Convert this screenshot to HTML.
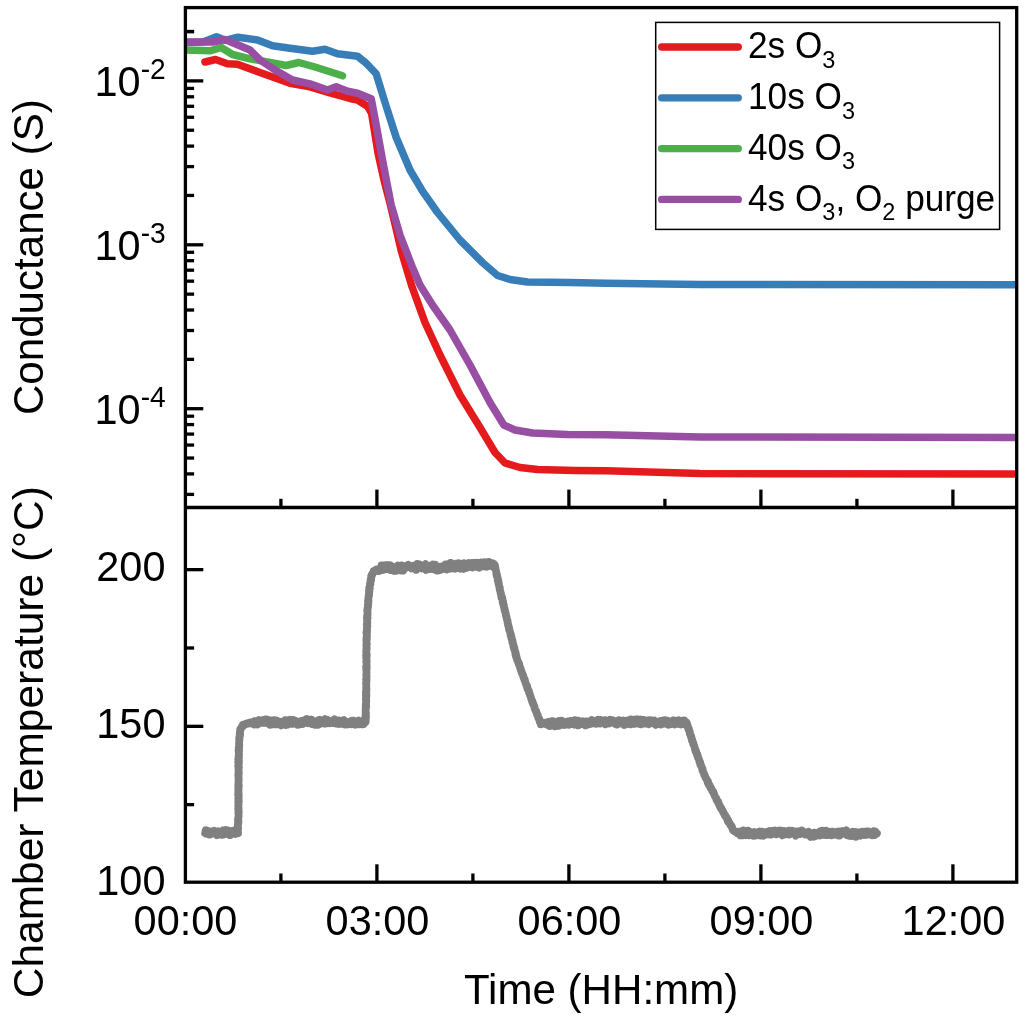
<!DOCTYPE html><html><head><meta charset="utf-8"><title>Conductance vs Time</title>
<style>html,body{margin:0;padding:0;background:#fff}svg{display:block}text{font-family:"Liberation Sans",Arial,sans-serif;fill:#000}</style></head><body>
<svg width="1025" height="1025" viewBox="0 0 1025 1025">
<rect width="1025" height="1025" fill="#fff"/>
<defs><clipPath id="ct"><rect x="185.4" y="7.6" width="831.3" height="499.9"/></clipPath></defs>
<g clip-path="url(#ct)">
<polyline points="205.0,62.0 215.5,59.5 227.5,63.8 237.5,64.2 260.0,72.5 290.0,83.2 310.0,86.8 330.0,93.0 350.0,98.5 357.5,100.0 367.5,106.2 371.5,113.0 378.0,153.0 384.0,180.0 389.7,202.0 395.5,226.0 401.2,250.7 412.2,287.3 425.0,322.5 440.0,355.0 460.0,395.0 480.0,427.5 495.0,452.5 505.0,463.0 520.0,467.5 537.5,469.5 575.0,470.5 606.0,470.8 700.0,473.6 1016.0,473.9" fill="none" stroke="#e41a1c" stroke-width="7.5" stroke-linejoin="round" stroke-linecap="round" />
<polyline points="186.0,42.5 203.0,42.0 216.5,36.8 225.0,40.3 238.0,37.2 257.5,40.0 272.5,45.8 290.0,48.2 312.5,51.2 325.0,49.2 337.5,53.8 357.5,56.2 366.0,63.0 376.2,73.8 385.0,102.5 396.2,137.5 410.0,170.0 422.5,191.2 437.5,212.5 460.0,240.0 482.5,262.5 497.5,275.5 510.0,279.5 527.5,282.0 570.0,282.5 606.0,283.2 700.0,284.4 1016.0,284.7" fill="none" stroke="#377eb8" stroke-width="7.5" stroke-linejoin="round" stroke-linecap="round" />
<polyline points="186.0,50.0 210.0,50.8 221.2,47.5 232.5,54.5 250.0,58.8 267.5,62.0 286.2,65.5 298.8,62.5 315.0,67.0 342.5,75.8" fill="none" stroke="#4daf4a" stroke-width="7.5" stroke-linejoin="round" stroke-linecap="round" />
<polyline points="186.0,42.0 212.5,42.0 225.0,39.5 250.0,50.0 260.0,60.0 275.0,70.0 292.5,80.0 310.0,83.8 327.5,90.0 336.2,86.8 347.5,91.2 357.5,93.2 371.2,98.8 376.2,125.0 382.5,160.0 391.2,205.0 400.0,235.0 412.5,267.5 420.0,285.0 432.5,305.0 450.0,330.0 470.0,365.0 490.0,402.5 503.8,425.0 515.0,430.0 532.5,433.0 567.5,434.5 606.0,434.8 700.0,437.0 1016.0,437.4" fill="none" stroke="#984ea3" stroke-width="7.5" stroke-linejoin="round" stroke-linecap="round" />
</g>
<polyline points="205.1,833.1 205.8,830.2 206.3,833.7 207.3,832.9 207.5,830.7 208.1,831.9 208.5,831.9 209.2,834.6 210.2,832.4 210.3,834.6 210.9,831.5 211.2,831.7 212.1,832.5 212.5,832.7 212.9,831.6 213.5,832.4 214.1,830.6 214.8,831.8 215.5,833.4 216.2,834.1 216.7,835.2 217.1,832.3 218.0,831.3 218.4,833.8 218.5,834.8 219.6,833.6 220.1,834.5 220.3,832.9 221.0,834.5 221.8,834.4 222.2,834.8 222.8,833.7 223.1,830.3 223.6,832.0 224.2,834.4 225.0,833.3 225.6,833.5 226.1,830.0 226.8,833.8 227.2,832.7 227.8,830.3 228.4,831.2 228.6,831.4 229.6,831.1 230.1,835.2 230.5,832.2 231.1,833.8 231.8,833.6 232.3,830.8 232.6,831.8 233.5,832.1 233.9,830.6 234.2,832.0 235.1,834.1 235.7,832.0 236.1,832.9 236.7,831.1 237.5,831.5 238.1,833.4 237.5,832.4 238.0,832.3 237.8,831.1 237.7,831.2 237.7,830.2 237.7,829.6 238.2,828.7 238.2,828.5 238.2,828.1 237.8,827.7 238.0,826.3 237.7,826.2 238.0,825.4 237.9,824.9 238.0,824.8 237.8,824.2 238.3,823.0 238.4,823.0 238.4,822.0 238.1,821.6 238.5,821.2 238.2,820.5 238.1,819.5 238.0,819.7 238.2,819.3 238.2,818.0 238.3,817.4 238.3,817.6 238.6,816.9 238.5,816.4 238.7,815.5 238.5,814.4 238.5,814.3 238.6,813.9 238.3,812.8 238.7,812.3 238.4,812.0 238.3,811.8 238.7,810.8 238.5,810.3 238.5,809.8 238.2,809.0 238.3,809.2 238.4,808.0 238.7,808.2 238.4,806.8 238.2,806.2 238.3,805.6 238.3,805.2 238.5,805.3 238.6,804.3 238.4,803.8 238.4,803.1 238.2,802.5 238.7,801.8 238.5,801.7 238.7,800.7 238.3,800.2 238.4,799.9 238.7,799.7 238.7,798.3 238.2,798.5 238.7,797.7 238.5,796.6 238.4,797.0 238.7,796.4 238.8,795.2 238.2,794.6 238.5,794.6 238.7,794.0 238.6,793.5 238.5,792.8 238.2,792.4 238.3,792.0 238.6,790.9 238.3,790.2 238.6,790.1 238.3,789.0 238.5,788.9 238.4,788.0 238.6,787.2 238.4,787.1 238.8,786.8 238.7,786.0 238.3,785.3 238.8,785.2 238.4,783.9 238.5,784.0 238.5,783.0 238.6,783.2 238.4,781.7 238.4,781.5 238.6,780.8 238.7,780.8 238.5,779.7 238.8,779.2 238.7,778.6 238.4,778.6 238.4,778.2 238.5,776.9 238.4,776.6 238.6,776.5 238.3,775.4 238.4,775.4 238.3,774.0 238.3,773.8 238.8,773.7 238.7,773.3 238.8,772.0 238.4,772.1 238.7,770.6 238.7,770.4 238.5,769.8 238.4,768.9 238.4,768.7 238.8,767.9 238.9,767.5 238.5,767.5 238.8,766.6 238.3,766.1 238.5,766.0 238.4,764.9 238.8,764.0 238.5,764.2 238.7,762.9 238.3,762.3 238.8,762.0 238.7,762.1 238.5,760.9 238.9,760.7 238.5,760.2 238.5,759.2 238.3,759.1 238.9,758.5 238.9,757.3 238.5,757.2 239.0,757.1 238.6,755.9 238.7,755.5 239.0,754.7 238.9,754.7 239.0,754.2 238.9,753.2 238.7,752.6 239.0,751.8 238.7,751.9 238.7,750.7 238.6,750.6 238.8,750.5 239.1,749.9 238.8,748.5 238.7,748.3 239.1,747.7 238.8,747.1 239.1,746.8 239.2,746.5 239.1,745.2 239.3,744.8 239.1,744.3 239.2,743.6 238.9,743.1 238.9,743.2 239.2,742.0 239.1,742.2 239.2,740.8 239.4,740.7 239.5,739.6 239.2,739.8 239.5,739.3 239.1,738.1 239.2,737.5 239.8,737.3 239.8,736.6 239.9,736.1 239.6,735.9 240.1,734.7 239.9,734.6 239.7,733.8 239.8,733.1 239.9,732.9 240.2,732.0 239.9,731.6 240.3,730.9 240.2,730.4 240.5,730.1 240.2,729.2 240.4,729.1 240.9,728.1 240.9,728.2 241.4,727.3 241.6,727.5 241.9,726.6 242.3,725.9 242.9,726.0 242.9,724.7 243.7,724.5 243.8,725.0 244.6,724.7 245.2,724.6 245.8,723.7 246.0,723.9 247.0,724.0 247.2,723.5 247.9,723.2 248.3,722.9 249.1,723.5 249.4,722.9 250.4,723.3 250.5,722.4 251.5,723.2 251.8,722.2 252.6,722.4 253.2,722.6 253.6,722.0 254.2,721.4 254.5,724.6 255.4,721.1 255.6,722.2 256.4,722.0 256.8,721.3 257.7,724.6 257.9,722.8 259.0,720.0 259.6,720.3 260.1,722.4 260.6,721.0 261.1,722.3 261.6,722.6 262.2,721.3 262.5,722.2 263.3,720.1 264.0,722.9 264.4,719.8 264.9,719.5 265.3,721.2 265.8,721.3 266.6,719.4 267.2,719.7 267.8,723.4 268.3,719.7 268.8,721.5 269.6,720.3 270.1,724.8 270.6,723.8 270.8,724.7 271.5,724.5 272.3,720.4 272.8,724.4 272.9,721.4 273.9,720.3 274.5,720.9 275.0,720.2 275.4,724.3 275.8,720.9 276.5,721.2 276.8,720.5 277.4,724.5 278.3,724.4 278.5,723.9 279.0,722.7 279.9,721.9 280.6,723.0 280.9,724.8 281.2,725.4 282.1,722.3 282.7,721.6 283.4,723.2 283.6,724.2 284.2,721.1 284.9,720.4 285.5,721.4 285.9,725.2 286.5,723.5 286.8,720.0 287.2,720.7 288.1,722.2 288.6,724.6 288.9,721.0 289.8,719.9 290.0,721.5 290.6,721.4 291.2,722.4 292.0,720.3 292.5,721.6 292.8,723.9 293.4,719.8 293.9,722.3 294.9,723.1 295.1,720.5 295.5,722.7 296.3,721.3 296.9,722.0 297.7,723.7 297.8,724.8 298.2,723.1 299.0,721.7 299.3,724.6 299.9,723.4 301.0,721.2 301.1,723.5 301.8,723.5 302.5,720.8 302.8,721.2 303.2,724.0 304.2,722.9 304.3,723.3 305.2,721.2 305.8,721.0 306.0,719.2 306.6,718.9 307.2,722.6 308.0,723.2 308.5,720.3 309.0,721.2 309.7,721.8 309.9,722.5 310.9,720.4 311.4,719.4 311.6,720.5 312.4,724.2 312.9,721.1 313.6,721.1 313.7,724.2 314.5,723.2 315.1,724.8 315.5,724.2 316.2,724.4 316.6,723.7 317.2,721.6 317.6,723.3 318.0,724.8 318.6,720.1 319.2,724.7 319.9,720.5 320.2,719.8 321.2,722.7 321.7,723.1 321.9,722.1 322.6,723.2 323.4,723.4 323.5,723.3 324.6,723.7 324.7,719.9 325.2,719.0 326.2,723.2 326.6,723.3 327.2,720.6 327.4,719.8 328.4,720.4 328.6,721.6 329.0,720.8 329.7,723.2 330.3,721.2 331.2,722.1 331.7,722.6 331.8,721.4 332.6,723.1 333.1,722.6 333.7,720.0 334.5,719.2 335.0,719.5 335.1,719.6 336.1,723.6 336.2,721.1 337.0,722.8 337.4,721.3 338.0,723.2 338.5,724.0 339.1,720.4 339.9,722.1 340.1,723.0 340.6,723.9 341.5,724.0 342.0,721.8 342.4,722.0 343.3,720.4 343.8,720.1 344.0,721.4 344.9,722.6 345.2,724.6 345.6,722.5 346.4,724.0 347.1,723.5 347.4,721.8 347.8,724.5 348.6,724.0 348.9,722.4 349.8,723.1 350.0,722.4 351.0,721.2 351.1,721.5 352.0,724.2 352.2,720.6 352.8,721.5 353.5,720.6 353.9,720.7 354.9,723.5 354.9,724.8 355.5,721.9 356.5,724.1 356.9,722.3 357.2,723.5 357.7,721.3 358.4,720.5 358.9,724.5 359.7,723.0 360.2,722.8 360.4,723.5 361.1,724.1 362.0,722.4 362.3,723.9 362.8,721.0 363.5,724.3 364.1,723.2 364.7,722.9 365.1,721.6 365.5,722.3 365.4,721.6 365.8,721.3 365.7,720.3 365.6,719.9 365.7,719.3 365.8,719.3 365.5,718.5 365.9,717.6 365.7,717.7 365.4,716.7 365.5,716.4 366.0,715.6 365.5,715.1 365.8,714.6 365.8,714.0 366.0,713.3 365.8,713.2 365.6,712.4 365.8,711.9 365.6,711.6 365.8,710.1 365.7,709.9 365.6,709.3 365.8,709.1 365.8,708.1 365.7,708.0 366.2,707.2 365.8,707.0 365.9,705.8 365.7,705.8 366.2,705.1 366.0,704.5 365.8,704.3 365.9,703.5 366.2,703.1 366.0,702.0 366.1,701.3 366.3,701.0 366.3,700.3 366.0,699.7 366.1,699.1 365.8,699.1 366.0,698.1 366.0,697.8 366.1,697.4 366.3,696.5 366.4,696.5 365.9,695.9 366.4,695.3 366.0,694.8 366.3,693.4 365.9,693.8 366.3,692.5 366.0,691.9 366.1,691.9 366.2,690.8 366.5,690.8 366.1,690.4 366.4,689.7 366.4,689.3 366.5,688.7 366.1,688.0 366.3,687.5 366.3,687.0 366.4,685.9 366.2,685.2 366.3,684.6 366.3,684.1 366.3,683.9 366.4,683.7 366.0,683.1 366.3,682.3 366.4,682.0 366.3,681.0 366.6,680.1 366.4,680.1 366.1,679.6 366.5,679.3 366.3,678.8 366.4,677.8 366.6,676.8 366.5,676.8 366.3,676.5 366.3,675.5 366.4,675.3 366.2,674.4 366.4,673.9 366.6,673.1 366.6,672.7 366.4,672.0 366.4,672.1 366.5,671.4 366.3,670.4 366.3,670.1 366.5,669.7 366.2,669.1 366.7,668.4 366.2,667.6 366.1,666.9 366.7,666.8 366.5,666.4 366.7,665.7 366.5,665.1 366.6,664.5 366.6,663.6 366.6,663.3 366.6,662.4 366.3,661.8 366.6,662.1 366.6,661.0 366.7,660.8 366.5,659.8 366.4,659.4 366.4,658.8 366.6,658.8 366.2,657.8 366.2,656.8 366.7,656.7 366.8,656.1 366.2,655.4 366.6,655.4 366.8,654.4 366.5,653.5 366.6,653.0 366.3,652.3 366.2,652.4 366.3,652.1 366.3,651.5 366.3,650.1 366.7,649.7 366.7,649.1 366.3,649.2 366.7,648.7 366.7,647.4 366.6,647.4 366.5,647.1 366.4,646.6 366.7,645.1 366.3,645.2 366.8,644.0 366.5,644.1 366.4,643.7 366.6,642.3 366.5,642.3 366.6,641.8 366.4,641.4 366.5,640.7 366.7,639.9 366.5,639.7 366.9,639.2 366.7,638.1 366.4,638.3 366.8,637.5 366.6,636.8 367.0,636.4 366.8,635.4 366.7,635.4 366.7,634.6 366.8,634.3 367.0,633.1 366.5,632.5 366.8,632.3 367.0,632.1 366.6,631.4 367.1,630.9 366.9,629.8 367.1,629.8 367.0,629.3 366.9,627.9 367.0,628.1 366.8,627.5 367.3,626.4 367.1,626.3 367.0,625.3 366.9,625.3 367.2,624.4 366.8,624.2 367.3,623.1 367.2,623.2 367.4,622.2 367.1,621.8 367.0,620.8 367.0,620.8 367.1,620.1 367.2,619.5 367.0,618.4 367.5,618.2 367.0,617.9 367.5,616.9 367.4,616.5 367.3,615.6 367.1,616.0 367.6,615.0 367.4,614.2 367.6,613.8 367.7,613.6 367.6,613.2 367.3,611.8 367.3,611.3 367.2,610.7 367.5,610.9 367.5,610.4 367.8,609.0 367.7,608.8 367.4,608.8 367.6,607.9 367.8,607.7 367.9,606.6 367.8,605.8 368.2,606.1 367.8,604.6 367.9,604.4 368.3,604.4 368.3,602.9 368.3,603.1 368.3,602.8 368.0,601.4 368.5,601.6 368.5,600.4 368.5,600.4 368.2,599.4 368.4,598.6 368.5,598.1 368.4,597.5 368.8,596.9 368.8,596.5 368.5,596.7 368.6,596.1 369.1,595.5 368.7,594.5 368.7,594.5 369.2,593.6 369.0,592.8 369.3,592.4 369.2,591.5 369.0,590.9 369.4,590.8 369.1,590.6 369.2,589.6 369.2,588.9 369.7,588.4 369.3,588.0 369.5,587.9 369.5,587.4 369.5,586.8 370.0,585.5 369.9,585.1 369.9,584.4 370.1,584.7 370.5,584.1 370.1,582.9 370.6,582.1 370.6,581.8 370.9,581.0 370.9,580.7 370.6,579.9 371.1,579.8 370.8,579.2 371.3,578.4 371.2,577.8 371.0,577.9 371.4,576.8 371.2,576.1 371.6,576.0 371.6,575.2 372.1,575.2 372.4,574.6 372.3,573.6 372.9,573.4 373.1,572.6 373.4,572.3 373.7,572.4 373.7,571.0 374.2,571.0 374.7,570.5 374.8,570.7 375.4,569.8 375.9,569.9 376.2,569.5 377.0,569.2 377.3,569.1 378.2,571.1 378.5,570.0 379.1,570.2 379.5,570.9 380.6,568.4 380.9,568.6 381.5,565.3 382.4,566.5 382.5,565.6 383.1,570.0 383.6,565.4 384.5,566.0 384.7,568.4 385.6,567.9 386.2,565.2 386.9,569.0 386.9,565.2 387.8,567.5 388.2,565.1 388.8,565.2 389.5,569.7 389.7,567.9 390.7,565.3 391.3,570.2 391.5,567.0 392.4,567.8 392.7,570.4 393.4,566.8 393.7,566.9 394.3,571.0 395.1,570.6 395.7,570.3 395.8,568.2 396.9,570.8 397.0,567.6 397.8,567.3 398.2,565.5 398.7,568.2 399.0,565.9 400.2,569.9 400.7,569.0 401.2,570.6 401.8,565.3 402.2,566.8 402.7,566.8 403.2,570.7 403.8,566.4 404.3,567.4 405.1,566.4 405.3,568.4 405.7,568.0 406.8,567.3 406.9,566.9 407.6,564.9 407.9,564.8 408.6,566.5 409.1,565.5 409.6,567.4 410.6,567.8 411.0,568.1 411.3,568.5 412.0,567.6 412.6,567.1 413.0,565.7 413.5,567.4 414.1,567.9 414.5,566.4 415.5,565.5 415.9,567.0 416.3,569.9 416.9,568.3 417.3,563.8 418.3,565.9 418.4,565.4 419.1,567.4 419.5,564.2 420.6,567.4 420.6,564.9 421.3,567.1 422.0,568.4 422.7,566.5 423.2,568.1 423.7,566.6 424.3,568.2 424.9,564.7 425.5,564.1 426.0,567.7 426.3,570.0 426.9,566.6 427.6,569.4 428.1,566.4 428.5,566.8 429.2,565.8 429.6,567.4 430.1,565.9 430.9,569.1 431.3,566.6 431.7,565.7 432.2,567.4 433.0,564.4 433.8,565.9 434.3,569.2 434.9,565.4 435.1,569.8 435.4,564.6 436.3,567.4 437.1,569.2 437.4,570.7 437.9,567.7 438.6,566.9 438.9,568.1 439.5,570.3 440.2,567.6 440.4,566.6 441.2,567.7 441.8,569.6 442.6,567.1 442.8,567.9 443.7,566.1 444.0,569.0 444.3,565.9 445.4,569.0 445.6,564.4 446.4,567.8 446.9,569.5 447.5,565.8 447.6,564.9 448.4,566.0 448.8,563.9 449.6,566.4 450.0,568.8 450.7,562.9 451.1,567.5 451.6,567.0 452.0,564.6 453.0,566.3 453.5,563.9 453.9,566.2 454.3,566.8 455.0,568.9 455.6,565.3 455.9,563.7 456.8,563.4 457.0,563.9 457.8,568.0 458.4,567.9 458.6,563.1 459.6,565.1 460.1,565.3 460.3,564.8 460.8,568.8 461.7,565.4 462.1,565.6 462.5,568.7 463.3,569.0 463.8,566.7 464.2,563.0 465.2,567.8 465.4,567.9 466.2,564.0 466.6,567.9 467.1,567.7 467.5,564.1 468.4,563.1 468.7,567.2 469.3,566.7 469.7,563.0 470.4,563.2 471.3,563.9 471.6,563.0 472.1,564.8 472.6,562.9 473.0,567.6 473.7,564.1 474.1,564.3 474.7,562.7 475.5,564.5 475.8,566.7 476.3,563.9 477.3,562.9 477.6,567.2 478.3,562.9 478.6,566.4 479.2,567.8 479.6,567.7 480.4,563.2 480.9,562.6 481.6,563.3 482.3,565.3 482.5,563.2 483.2,563.0 483.9,562.4 484.2,565.0 484.6,566.4 485.3,565.6 485.9,563.5 486.4,562.1 486.8,566.8 487.4,565.6 487.9,564.9 488.6,564.5 489.1,561.8 489.6,562.8 490.1,565.8 490.7,563.8 491.6,566.1 492.2,566.6 492.3,563.0 492.8,565.6 493.7,563.7 494.1,565.8 494.8,565.0 495.0,565.7 495.0,566.1 494.8,567.3 495.3,567.7 495.0,567.5 495.2,568.2 495.4,569.0 495.4,569.4 495.8,569.8 496.1,570.8 496.1,571.0 496.1,572.0 496.1,571.8 496.5,573.1 496.3,573.0 496.8,574.1 496.4,574.2 496.6,575.3 496.7,576.0 497.2,575.7 497.3,576.5 497.4,577.5 497.3,577.3 497.8,578.2 497.9,579.0 497.9,579.7 497.9,579.8 497.7,580.6 498.0,581.0 498.5,581.1 498.5,581.6 498.6,582.9 498.4,583.2 498.9,583.8 498.8,584.0 498.6,584.6 499.0,585.0 499.0,585.5 499.4,586.5 499.2,586.7 499.5,587.4 499.9,587.9 499.6,588.9 499.6,589.1 499.9,589.9 500.1,590.4 500.0,590.9 500.4,591.2 500.6,592.1 500.4,592.1 500.6,592.5 500.6,593.2 500.8,594.1 501.1,594.1 501.1,595.0 501.3,595.2 501.2,595.6 501.9,596.8 501.5,597.4 502.1,597.7 501.7,598.2 502.1,598.4 502.3,598.8 502.6,600.0 502.6,600.8 502.7,600.6 502.6,601.1 502.6,602.2 503.2,602.3 502.9,603.2 503.4,604.0 503.2,604.4 503.7,604.9 503.5,604.9 503.9,605.6 503.8,606.3 503.9,607.1 504.0,606.9 504.3,608.0 504.6,608.6 504.7,609.4 504.6,609.5 504.5,609.8 504.9,610.1 505.1,610.8 505.1,612.1 505.0,611.7 505.3,612.4 505.6,612.8 505.8,614.1 505.9,614.3 505.7,615.0 506.0,615.3 506.0,615.9 506.3,616.8 506.6,616.7 506.4,617.5 506.7,617.9 506.6,618.2 506.8,619.1 507.3,620.1 507.3,620.7 507.5,620.9 507.6,620.9 507.6,622.0 507.5,622.5 508.0,622.9 508.0,623.3 507.9,624.4 507.9,624.2 508.4,625.0 508.2,625.8 508.5,626.2 508.6,626.7 508.9,627.1 508.7,627.5 509.3,628.4 509.0,629.2 509.2,629.0 509.5,629.7 509.6,630.5 509.6,631.1 509.7,631.6 510.1,631.7 510.1,632.2 510.3,633.6 510.5,634.0 510.8,633.9 511.0,635.0 510.7,635.7 511.0,635.6 511.4,636.5 511.5,636.6 511.6,637.1 511.4,637.9 511.4,638.7 511.7,638.9 512.1,639.6 512.4,640.4 512.5,640.8 512.7,641.7 512.3,642.1 512.6,642.7 512.9,643.3 512.7,643.3 513.2,644.5 513.4,644.1 513.4,644.7 513.5,645.9 513.4,646.6 513.9,646.5 513.7,647.2 514.3,647.9 514.0,647.9 514.1,649.2 514.3,649.5 514.5,650.2 514.7,650.2 515.1,651.1 515.1,651.9 515.4,651.6 515.2,652.3 515.4,653.6 515.8,653.3 515.5,654.6 516.0,654.7 516.0,655.0 516.3,655.8 516.5,656.6 516.1,656.8 516.4,657.9 516.8,657.6 516.8,658.4 517.1,659.2 517.3,659.5 517.2,660.2 517.6,660.2 517.9,661.7 517.8,661.4 518.4,662.0 518.3,662.8 518.5,663.3 518.8,664.3 519.3,663.9 519.2,665.1 519.6,665.6 519.6,666.0 519.7,666.2 520.1,667.3 520.4,667.6 520.2,668.3 520.6,668.5 520.8,668.9 520.9,669.5 520.8,669.9 521.1,671.1 521.4,671.0 521.5,671.4 521.7,671.8 521.7,673.1 522.1,673.2 522.4,673.5 522.3,673.8 522.6,674.6 523.0,675.4 523.4,675.7 523.5,676.4 523.2,676.6 523.7,677.9 523.8,678.2 524.0,678.8 524.0,679.0 524.6,679.3 524.4,679.5 524.6,680.3 525.1,680.8 525.1,681.3 525.4,682.5 525.6,682.3 525.8,683.6 525.9,683.3 526.3,684.6 526.2,684.4 526.3,685.3 526.9,685.9 527.1,686.0 526.9,687.1 527.3,687.3 527.5,687.7 527.3,688.3 527.5,689.0 527.8,689.4 528.2,689.7 528.3,690.0 528.7,691.1 529.0,691.1 528.9,692.3 528.9,692.2 529.0,692.7 529.6,693.2 529.8,694.1 529.8,694.8 530.0,695.4 530.2,695.6 530.5,696.0 530.7,697.0 530.9,697.1 531.1,698.3 531.1,698.1 531.3,699.3 531.2,698.9 531.6,700.1 532.0,700.3 532.3,700.7 532.4,701.1 532.1,701.6 532.3,702.5 532.8,702.7 533.3,703.4 533.0,703.8 533.6,705.0 533.4,704.7 534.0,705.4 534.3,706.2 534.3,706.6 534.6,707.2 534.5,708.2 534.6,708.5 534.8,709.0 535.2,709.7 535.2,709.9 535.6,710.8 536.1,711.0 535.9,711.2 536.1,711.9 536.3,712.2 536.9,713.1 536.8,714.0 536.9,714.1 537.1,714.9 537.7,714.9 537.9,715.9 537.8,716.0 538.1,717.1 538.1,717.4 538.6,717.7 538.8,718.6 538.8,719.1 539.1,719.6 539.6,719.5 539.8,720.8 539.6,720.4 539.7,721.9 539.9,722.3 540.2,722.7 540.3,722.6 540.9,723.1 540.9,724.4 541.7,724.3 542.4,723.3 542.5,724.0 543.3,723.1 543.8,723.2 544.3,722.9 544.6,723.7 545.3,723.5 545.8,723.8 546.3,723.5 546.9,724.8 547.4,725.0 548.2,721.8 548.7,723.7 549.6,723.0 549.7,726.1 550.6,724.9 550.8,722.0 551.4,721.4 551.8,723.7 552.6,724.0 553.1,721.1 553.8,724.5 554.3,723.9 554.9,726.2 555.6,724.8 555.9,722.8 556.4,726.2 556.9,723.1 557.5,721.9 558.4,721.1 558.7,725.9 559.1,724.1 559.7,722.1 560.1,721.3 561.1,724.6 561.7,720.6 562.1,721.8 562.6,722.8 563.0,724.9 563.3,723.7 564.4,722.4 564.8,725.0 565.1,723.1 566.0,721.8 566.5,721.9 566.9,723.1 567.6,721.6 568.1,722.8 568.4,723.2 569.0,724.8 569.7,723.8 570.2,722.5 570.6,720.8 571.6,722.8 571.9,722.7 572.6,721.2 572.8,724.2 573.5,723.3 574.3,724.6 574.9,720.1 575.1,724.2 575.9,720.5 576.1,721.2 576.6,721.8 577.6,722.7 577.9,720.6 578.4,725.5 579.2,722.8 579.6,724.7 580.3,721.5 580.8,722.8 581.3,722.2 581.7,722.8 582.3,721.1 582.7,724.0 583.2,721.9 584.1,722.4 584.4,722.3 585.3,721.5 585.7,725.5 586.0,723.3 586.9,724.3 587.2,721.3 587.8,723.0 588.5,722.6 588.9,724.4 589.7,722.7 590.0,723.6 590.9,721.4 591.4,723.8 591.6,723.4 592.1,720.0 593.0,721.5 593.4,721.9 594.1,723.2 594.2,722.4 595.0,721.7 595.8,721.4 596.1,723.9 596.6,721.8 597.2,723.6 597.9,723.2 598.2,719.5 599.0,722.2 599.6,723.3 599.7,720.5 600.3,723.6 600.8,719.8 601.8,722.2 601.9,722.9 602.8,721.8 603.0,722.9 603.8,722.4 604.7,723.6 605.1,720.1 605.4,722.1 605.7,724.5 606.4,720.7 607.0,720.7 607.9,722.3 608.2,721.6 608.5,720.9 609.5,723.5 610.1,720.7 610.2,719.6 611.0,721.3 611.5,721.9 612.1,721.2 612.8,720.4 613.4,722.3 613.5,721.1 614.3,721.6 614.9,721.3 615.2,723.8 615.8,723.4 616.7,722.9 617.0,724.7 617.5,724.4 617.9,722.1 618.8,720.1 619.4,720.2 619.8,720.8 620.6,722.8 621.1,722.5 621.5,723.5 621.9,721.1 622.7,720.8 623.3,721.1 623.4,720.5 624.4,725.0 624.7,723.4 625.1,724.7 625.9,720.7 626.1,723.4 626.7,724.0 627.4,720.8 628.1,721.1 628.6,720.2 629.4,721.0 629.9,720.1 630.4,724.4 630.7,719.4 631.3,722.5 631.7,722.0 632.2,721.5 633.1,721.2 633.7,719.5 634.3,719.5 634.9,723.9 635.5,721.4 635.6,720.5 636.4,721.3 637.1,719.2 637.4,723.3 638.0,721.7 638.3,719.7 638.9,723.8 639.8,720.4 640.4,719.5 640.8,724.5 641.2,724.4 641.9,719.8 642.3,721.9 642.8,723.4 643.3,723.6 643.9,719.9 644.6,720.0 645.1,723.6 645.7,721.8 645.9,722.1 646.5,722.8 647.1,722.4 647.8,721.3 648.5,720.2 648.8,724.3 649.4,723.8 650.3,722.0 650.4,720.0 651.4,720.2 651.7,722.4 652.0,722.1 652.6,722.5 653.4,721.7 653.7,721.9 654.3,720.4 654.9,724.4 655.6,724.5 655.8,724.9 656.7,724.2 657.3,723.8 657.6,724.2 658.1,721.8 658.6,722.6 659.4,722.1 660.2,721.0 660.6,721.8 661.1,724.6 661.8,720.8 662.0,723.5 663.0,720.5 663.3,723.8 664.0,721.9 664.6,722.5 665.2,720.1 665.7,722.1 666.0,720.4 666.4,723.8 667.2,720.7 667.6,720.6 668.0,721.0 668.7,724.8 669.6,723.8 669.9,722.2 670.6,724.3 671.1,722.9 671.4,722.8 672.3,723.6 672.4,723.3 673.1,720.4 674.0,723.1 674.4,720.3 675.0,724.5 675.6,723.5 676.1,723.8 676.5,722.0 677.2,723.8 677.8,721.3 678.4,722.5 679.0,720.3 679.5,723.8 679.6,724.1 680.2,720.8 680.9,721.0 681.4,724.5 682.1,723.5 682.5,723.9 683.3,723.4 683.9,724.1 684.1,720.3 684.8,724.1 685.2,722.7 686.1,723.6 686.1,722.0 686.3,722.1 686.9,723.0 687.0,723.5 687.0,723.8 687.2,725.0 687.5,725.0 687.3,725.5 687.9,726.2 688.0,727.1 687.9,727.5 688.0,728.1 688.2,728.1 688.9,728.7 688.6,729.8 689.0,730.3 689.0,730.5 689.5,731.0 689.7,731.2 689.8,731.7 689.8,732.1 689.7,733.6 690.1,734.0 690.1,734.0 690.2,734.8 690.8,735.2 690.7,736.2 691.2,736.5 690.9,736.9 691.3,737.8 691.4,738.0 691.7,738.3 691.8,739.1 692.2,739.5 692.1,740.5 692.0,740.9 692.6,741.1 692.6,741.8 693.0,742.3 693.1,742.2 693.0,742.8 693.6,744.1 693.3,744.3 693.7,744.3 693.8,745.5 694.1,745.6 694.3,746.1 694.4,746.8 694.8,747.6 694.8,748.1 694.8,748.9 695.1,749.2 695.1,749.2 695.4,750.4 695.7,750.4 695.5,751.1 696.2,751.2 696.3,751.8 696.2,752.2 696.4,753.0 697.0,754.1 696.7,754.0 697.4,754.4 697.2,755.1 697.2,755.5 697.6,756.1 698.1,756.5 697.9,757.7 698.2,758.1 698.5,758.6 698.5,758.5 699.0,759.3 699.0,760.0 699.3,760.2 699.3,761.3 699.6,761.2 699.8,761.7 700.1,762.0 700.3,763.0 700.2,763.9 700.4,763.7 700.5,764.6 701.1,765.2 701.0,765.9 701.0,765.9 701.6,767.1 701.7,767.3 702.0,767.5 702.3,768.4 702.1,768.6 702.6,769.0 702.4,770.1 702.8,770.2 703.1,771.1 703.0,771.1 703.1,771.7 703.6,772.6 703.9,772.9 703.9,773.4 704.0,774.2 704.5,774.7 704.3,775.0 704.9,775.4 705.1,776.3 705.3,776.7 705.5,777.3 705.4,777.6 706.0,778.0 706.0,777.9 706.5,779.2 706.5,779.1 706.7,779.5 707.2,780.8 707.6,780.7 707.8,780.9 708.1,781.7 707.8,782.5 708.2,782.6 708.4,783.3 708.9,784.1 708.8,784.7 709.1,784.5 709.7,785.2 709.8,785.9 709.9,786.6 710.2,787.1 710.8,787.3 710.6,788.1 710.8,788.3 711.3,788.3 711.7,789.5 711.9,789.7 712.1,790.4 712.2,791.1 712.9,791.6 713.1,791.6 713.4,791.8 713.3,792.4 713.6,793.4 714.0,793.7 714.0,793.9 714.3,794.5 714.4,795.5 714.8,795.7 714.9,796.4 715.2,796.5 715.6,797.4 716.1,797.9 716.4,798.6 716.5,798.9 716.3,798.9 716.5,800.0 717.2,800.3 717.2,800.5 717.4,801.3 718.1,801.5 717.8,801.8 718.2,803.1 718.7,803.1 718.6,803.3 718.9,804.4 719.3,805.1 719.8,805.4 719.8,805.9 719.8,805.7 720.3,806.6 720.4,806.9 720.5,808.0 721.2,808.5 721.6,808.5 721.7,809.0 722.0,809.9 721.9,809.6 722.2,810.6 722.6,810.5 723.2,811.8 723.2,811.6 723.7,812.5 723.5,812.8 724.1,813.9 724.3,814.1 724.4,814.2 725.1,814.8 724.9,815.5 725.2,815.6 725.7,816.5 726.1,817.1 726.2,816.9 726.7,817.4 726.8,818.2 727.2,819.0 727.2,819.5 727.8,819.8 727.7,820.7 728.3,820.3 728.3,821.7 728.6,821.6 729.2,822.6 729.4,823.0 729.3,822.8 730.1,824.0 729.9,823.7 730.3,825.1 730.5,825.3 731.2,825.8 731.5,825.9 731.3,826.1 731.9,826.7 732.4,827.8 732.2,828.4 732.4,828.6 732.7,829.3 733.4,830.0 733.1,830.4 733.8,830.8 734.0,831.1 734.6,831.6 734.7,831.2 735.5,831.7 735.9,831.8 736.6,832.1 737.2,833.2 737.5,832.8 738.1,832.3 738.5,831.8 739.5,834.0 739.7,831.6 740.5,835.4 741.1,831.3 741.4,832.2 742.2,831.3 742.7,835.5 743.4,830.4 743.6,830.9 744.5,833.5 745.0,832.8 745.5,833.6 746.2,835.2 746.8,834.6 747.4,834.8 747.9,830.6 748.4,834.9 748.8,835.0 749.2,835.3 749.9,834.1 750.4,832.0 751.0,832.1 751.4,832.8 752.4,833.9 753.0,834.5 753.5,835.8 754.0,832.1 754.2,832.8 754.6,831.9 755.7,835.5 755.9,834.7 756.7,835.3 757.3,833.5 757.4,835.0 758.1,833.9 758.7,833.4 759.6,831.5 759.9,834.0 760.4,835.5 760.9,835.3 761.6,835.6 761.8,831.7 762.5,835.3 762.9,832.0 763.8,835.8 764.1,833.0 764.9,834.3 765.5,834.7 765.7,832.2 766.2,834.5 766.8,832.3 767.8,834.3 768.2,834.4 768.7,834.5 769.1,831.2 769.5,830.9 770.2,831.5 770.6,833.2 771.7,834.1 771.8,834.5 772.3,830.9 772.9,832.5 773.7,832.6 774.3,830.8 775.0,832.1 775.4,830.4 776.0,831.4 776.6,834.4 777.0,831.7 777.2,831.2 778.2,831.0 778.6,833.2 779.2,831.1 779.4,830.6 780.5,832.1 780.8,833.1 781.1,830.5 781.6,834.6 782.2,835.3 782.9,834.0 783.3,834.4 783.9,832.3 784.6,831.0 785.0,834.6 785.6,832.4 786.4,831.6 786.6,831.6 787.3,832.3 788.0,832.9 788.7,830.7 789.1,834.7 789.4,830.5 790.1,830.9 790.6,834.0 791.0,830.9 791.7,831.2 792.1,832.6 792.6,830.7 793.3,832.8 794.2,833.3 794.2,831.7 795.2,833.5 795.8,835.7 796.4,831.3 797.0,833.5 797.1,831.7 798.0,832.0 798.1,832.2 799.2,833.2 799.6,831.1 800.0,832.3 800.4,834.0 801.0,831.1 801.9,832.9 802.0,830.3 802.8,832.9 803.0,832.6 804.0,832.9 804.2,832.7 805.0,833.6 805.3,834.6 806.3,834.4 806.8,832.7 807.4,832.0 807.5,834.4 808.5,832.0 808.6,831.9 809.3,832.6 809.7,835.8 810.5,836.8 810.9,835.4 811.3,836.8 811.9,834.2 812.7,836.6 813.2,836.8 813.8,832.6 814.5,832.5 815.1,833.8 815.2,836.3 815.8,833.4 816.4,834.8 816.8,833.2 817.4,835.4 817.9,834.2 818.6,833.2 819.3,834.4 819.6,831.8 820.1,835.5 820.7,831.1 821.5,833.3 822.2,830.6 822.4,831.2 823.2,832.6 823.6,834.9 824.3,834.8 825.0,831.8 825.6,832.5 825.6,835.2 826.2,830.5 826.8,832.0 827.8,835.0 828.0,833.2 828.8,834.7 829.2,833.2 829.5,831.8 830.3,833.6 831.0,835.2 831.6,831.6 831.6,835.3 832.5,831.6 833.1,832.0 833.4,832.6 834.1,834.2 834.4,834.5 835.3,833.1 835.9,834.8 836.0,833.1 837.0,834.4 837.5,831.6 838.2,834.8 838.3,832.9 839.3,831.7 839.5,835.7 840.4,831.9 840.8,832.5 841.3,834.6 841.6,831.7 842.2,831.9 842.6,831.1 843.4,832.5 843.7,833.3 844.8,833.2 845.0,833.8 845.6,831.0 846.2,830.2 846.9,831.0 847.2,835.3 848.0,834.8 848.5,834.0 849.1,835.9 849.3,835.1 849.9,832.6 850.8,834.6 851.4,836.1 851.8,832.7 852.0,834.5 852.9,833.1 853.1,831.7 853.7,835.4 854.2,833.0 854.9,835.5 855.8,832.0 855.9,836.8 856.9,832.7 857.1,834.7 857.6,834.1 858.3,833.3 858.6,832.3 859.2,832.3 860.0,835.3 860.4,835.6 861.2,833.1 861.6,832.2 862.4,834.0 862.4,831.7 863.4,832.8 863.9,832.0 864.5,835.0 864.7,833.8 865.3,834.5 866.2,834.9 866.4,831.3 867.2,833.7 867.4,831.8 868.2,831.4 868.8,832.1 869.2,833.0 869.9,834.6 870.1,834.5 870.8,832.2 871.6,834.2 872.1,835.2 872.4,832.1 873.2,831.7 873.5,831.4 874.4,834.4 874.9,835.0 875.5,831.5 875.8,833.6 876.2,833.1 877.0,833.4" fill="none" stroke="#808080" stroke-width="7.7" stroke-linejoin="round" stroke-linecap="round" />
<rect x="185.40" y="7.60" width="831.30" height="874.60" fill="none" stroke="#000" stroke-width="3.30"/>
<line x1="185.40" y1="507.50" x2="1016.70" y2="507.50" stroke="#000" stroke-width="3.30"/>
<line x1="280.90" y1="507.50" x2="280.90" y2="498.80" stroke="#000" stroke-width="3.30"/>
<line x1="280.90" y1="882.20" x2="280.90" y2="873.50" stroke="#000" stroke-width="3.30"/>
<line x1="376.90" y1="507.50" x2="376.90" y2="489.60" stroke="#000" stroke-width="3.30"/>
<line x1="376.90" y1="882.20" x2="376.90" y2="864.30" stroke="#000" stroke-width="3.30"/>
<line x1="472.90" y1="507.50" x2="472.90" y2="498.80" stroke="#000" stroke-width="3.30"/>
<line x1="472.90" y1="882.20" x2="472.90" y2="873.50" stroke="#000" stroke-width="3.30"/>
<line x1="568.90" y1="507.50" x2="568.90" y2="489.60" stroke="#000" stroke-width="3.30"/>
<line x1="568.90" y1="882.20" x2="568.90" y2="864.30" stroke="#000" stroke-width="3.30"/>
<line x1="664.90" y1="507.50" x2="664.90" y2="498.80" stroke="#000" stroke-width="3.30"/>
<line x1="664.90" y1="882.20" x2="664.90" y2="873.50" stroke="#000" stroke-width="3.30"/>
<line x1="760.90" y1="507.50" x2="760.90" y2="489.60" stroke="#000" stroke-width="3.30"/>
<line x1="760.90" y1="882.20" x2="760.90" y2="864.30" stroke="#000" stroke-width="3.30"/>
<line x1="856.90" y1="507.50" x2="856.90" y2="498.80" stroke="#000" stroke-width="3.30"/>
<line x1="856.90" y1="882.20" x2="856.90" y2="873.50" stroke="#000" stroke-width="3.30"/>
<line x1="952.90" y1="507.50" x2="952.90" y2="489.60" stroke="#000" stroke-width="3.30"/>
<line x1="952.90" y1="882.20" x2="952.90" y2="864.30" stroke="#000" stroke-width="3.30"/>
<line x1="185.40" y1="80.90" x2="203.30" y2="80.90" stroke="#000" stroke-width="3.30"/>
<line x1="185.40" y1="31.56" x2="194.10" y2="31.56" stroke="#000" stroke-width="3.30"/>
<line x1="185.40" y1="244.80" x2="203.30" y2="244.80" stroke="#000" stroke-width="3.30"/>
<line x1="185.40" y1="195.46" x2="194.10" y2="195.46" stroke="#000" stroke-width="3.30"/>
<line x1="185.40" y1="166.60" x2="194.10" y2="166.60" stroke="#000" stroke-width="3.30"/>
<line x1="185.40" y1="146.12" x2="194.10" y2="146.12" stroke="#000" stroke-width="3.30"/>
<line x1="185.40" y1="130.24" x2="194.10" y2="130.24" stroke="#000" stroke-width="3.30"/>
<line x1="185.40" y1="117.26" x2="194.10" y2="117.26" stroke="#000" stroke-width="3.30"/>
<line x1="185.40" y1="106.29" x2="194.10" y2="106.29" stroke="#000" stroke-width="3.30"/>
<line x1="185.40" y1="96.78" x2="194.10" y2="96.78" stroke="#000" stroke-width="3.30"/>
<line x1="185.40" y1="88.40" x2="194.10" y2="88.40" stroke="#000" stroke-width="3.30"/>
<line x1="185.40" y1="408.70" x2="203.30" y2="408.70" stroke="#000" stroke-width="3.30"/>
<line x1="185.40" y1="359.36" x2="194.10" y2="359.36" stroke="#000" stroke-width="3.30"/>
<line x1="185.40" y1="330.50" x2="194.10" y2="330.50" stroke="#000" stroke-width="3.30"/>
<line x1="185.40" y1="310.02" x2="194.10" y2="310.02" stroke="#000" stroke-width="3.30"/>
<line x1="185.40" y1="294.14" x2="194.10" y2="294.14" stroke="#000" stroke-width="3.30"/>
<line x1="185.40" y1="281.16" x2="194.10" y2="281.16" stroke="#000" stroke-width="3.30"/>
<line x1="185.40" y1="270.19" x2="194.10" y2="270.19" stroke="#000" stroke-width="3.30"/>
<line x1="185.40" y1="260.68" x2="194.10" y2="260.68" stroke="#000" stroke-width="3.30"/>
<line x1="185.40" y1="252.30" x2="194.10" y2="252.30" stroke="#000" stroke-width="3.30"/>
<line x1="185.40" y1="494.40" x2="194.10" y2="494.40" stroke="#000" stroke-width="3.30"/>
<line x1="185.40" y1="473.92" x2="194.10" y2="473.92" stroke="#000" stroke-width="3.30"/>
<line x1="185.40" y1="458.04" x2="194.10" y2="458.04" stroke="#000" stroke-width="3.30"/>
<line x1="185.40" y1="445.06" x2="194.10" y2="445.06" stroke="#000" stroke-width="3.30"/>
<line x1="185.40" y1="434.09" x2="194.10" y2="434.09" stroke="#000" stroke-width="3.30"/>
<line x1="185.40" y1="424.58" x2="194.10" y2="424.58" stroke="#000" stroke-width="3.30"/>
<line x1="185.40" y1="416.20" x2="194.10" y2="416.20" stroke="#000" stroke-width="3.30"/>
<line x1="185.40" y1="31.56" x2="194.10" y2="31.56" stroke="#000" stroke-width="3.30"/>
<line x1="185.40" y1="804.66" x2="194.10" y2="804.66" stroke="#000" stroke-width="3.30"/>
<line x1="185.40" y1="726.33" x2="203.30" y2="726.33" stroke="#000" stroke-width="3.30"/>
<line x1="185.40" y1="647.99" x2="194.10" y2="647.99" stroke="#000" stroke-width="3.30"/>
<line x1="185.40" y1="569.65" x2="203.30" y2="569.65" stroke="#000" stroke-width="3.30"/>
<text transform="translate(185.5,934.8) scale(1,1.035)" font-size="41.5" text-anchor="middle" >00:00</text>
<text transform="translate(377.5,934.8) scale(1,1.035)" font-size="41.5" text-anchor="middle" >03:00</text>
<text transform="translate(569.5,934.8) scale(1,1.035)" font-size="41.5" text-anchor="middle" >06:00</text>
<text transform="translate(761.5,934.8) scale(1,1.035)" font-size="41.5" text-anchor="middle" >09:00</text>
<text transform="translate(953.5,934.8) scale(1,1.035)" font-size="41.5" text-anchor="middle" >12:00</text>
<text transform="translate(165.5,894.7) scale(1,1.035)" font-size="41.5" text-anchor="end" >100</text>
<text transform="translate(165.5,738.0) scale(1,1.035)" font-size="41.5" text-anchor="end" >150</text>
<text transform="translate(165.5,581.4) scale(1,1.035)" font-size="41.5" text-anchor="end" >200</text>
<text transform="translate(94.5,95.9) scale(1,1.035)" font-size="41.5">10<tspan font-size="28.2" dy="-16.4">-2</tspan></text>
<text transform="translate(94.5,259.8) scale(1,1.035)" font-size="41.5">10<tspan font-size="28.2" dy="-16.4">-3</tspan></text>
<text transform="translate(94.5,423.7) scale(1,1.035)" font-size="41.5">10<tspan font-size="28.2" dy="-16.4">-4</tspan></text>
<text transform="translate(42.8,257.1) rotate(-90)" font-size="42.1" text-anchor="middle">Conductance (S)</text>
<text transform="translate(42.8,742.2) rotate(-90)" font-size="42.5" text-anchor="middle">Chamber Temperature (°C)</text>
<text transform="translate(601.1,1003.5) scale(1,1.000)" font-size="42.1" text-anchor="middle" >Time (HH:mm)</text>
<rect x="655.7" y="22.4" width="343.9" height="207" fill="#fff" stroke="#000" stroke-width="1.5"/>
<line x1="661.6" y1="47.0" x2="738.3" y2="47.0" stroke="#e41a1c" stroke-width="7.3" stroke-linecap="round"/>
<text transform="translate(748,58.3) scale(1,1.03)" font-size="35.2">2s O<tspan font-size="23.5" dy="9.3">3</tspan></text>
<line x1="661.6" y1="97.8" x2="738.3" y2="97.8" stroke="#377eb8" stroke-width="7.3" stroke-linecap="round"/>
<text transform="translate(748,109.1) scale(1,1.03)" font-size="35.2">10s O<tspan font-size="23.5" dy="9.3">3</tspan></text>
<line x1="661.6" y1="148.6" x2="738.3" y2="148.6" stroke="#4daf4a" stroke-width="7.3" stroke-linecap="round"/>
<text transform="translate(748,159.9) scale(1,1.03)" font-size="35.2">40s O<tspan font-size="23.5" dy="9.3">3</tspan></text>
<line x1="661.6" y1="199.4" x2="738.3" y2="199.4" stroke="#984ea3" stroke-width="7.3" stroke-linecap="round"/>
<text transform="translate(748,210.7) scale(1,1.03)" font-size="35.2">4s O<tspan font-size="23.5" dy="9.3">3</tspan><tspan dy="-9.3">, O</tspan><tspan font-size="23.5" dy="9.3">2</tspan><tspan dy="-9.3"> purge</tspan></text>
</svg></body></html>
